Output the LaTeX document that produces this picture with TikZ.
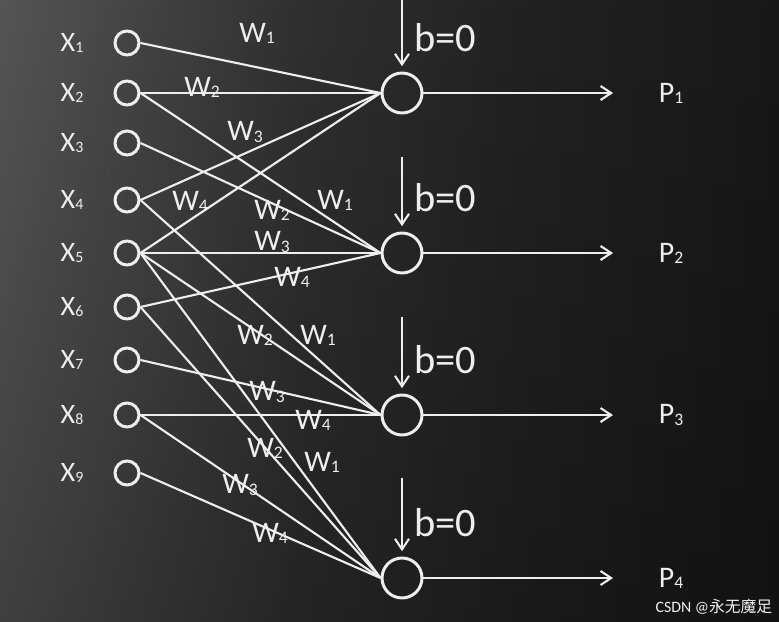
\documentclass[tikz,border=0pt]{standalone}
\usepackage{fontspec}
\setmainfont{Carlito}
\newfontfamily\cjkfont{Noto Sans CJK SC}
\usepackage{xcolor}
\usetikzlibrary{arrows.meta,fadings}
\definecolor{ink}{HTML}{EEEEEE}
\definecolor{bgA}{HTML}{555555}
\definecolor{bgB}{HTML}{303030}
\definecolor{bgC}{HTML}{222222}
\definecolor{bgD}{HTML}{181818}
\newcommand{\lowdigit}[2][8]{\raisebox{-0.6pt}{\fontsize{#1}{#1}\selectfont #2}}

\begin{document}
\begin{tikzpicture}[x=0.02cm,y=-0.02cm,
  inp/.style={circle,draw=ink,line width=1.7pt,minimum size=0.48cm,inner sep=0pt},
  neuron/.style={circle,draw=ink,line width=1.7pt,minimum size=0.8cm,inner sep=0pt},
  wire/.style={draw=ink,line width=1.2pt},
  xlab/.style={text=ink,inner sep=0pt,font=\fontsize{16}{16}\selectfont},
  wlab/.style={text=ink,inner sep=0pt,font=\fontsize{17}{17}\selectfont},
  blab/.style={text=ink,inner sep=0pt,anchor=west,font=\fontsize{23}{23}\selectfont},
  >={Straight Barb[length=6pt,width=8pt]}]
% background
\shade[left color=bgA,right color=bgB] (0,0) rectangle (300,622);
\shade[left color=bgB,right color=bgC] (300,0) rectangle (520,622);
\shade[left color=bgC,right color=bgD] (520,0) rectangle (779,622);
\fill[black,opacity=0.25,path fading=north] (0,0) rectangle (779,622);
\useasboundingbox (0,0) rectangle (779,622);

% inputs
\foreach \i/\y in {1/43,2/93,3/143,4/200,5/253,6/307,7/360,8/415,9/473} {
  \node[inp] (x\i) at (127,\y) {};
  \node[xlab] (xl\i) at (72,\y) {X\lowdigit[9]{\i}};
}
% neurons, bias and outputs
\foreach \n/\y/\t in {1/93/0,2/253/157,3/415/317,4/578/478} {
  \node[neuron] (n\n) at (402,\y) {};
  \coordinate (t\n) at (402,\t);
  \coordinate (e\n) at (613,\y);
  \node[blab] (b\n) at (414,\y-55) {b=0};
  \node[xlab,font=\fontsize{17}{17}\selectfont] (p\n) at (671,\y) {P\lowdigit[10]{\n}};
  \draw[wire,->,shorten >=3pt] (t\n) -- (n\n);
  \draw[wire,->] (n\n) -- (e\n);
}
% weights
\foreach \n/\list in {1/{1,2,4,5},2/{2,3,5,6},3/{4,5,7,8},4/{5,6,8,9}}
  \foreach \i in \list \draw[wire] (x\i.east) -- (n\n.west);
\foreach \n/\k/\px/\py in {1/1/257/33,1/2/202/87,1/3/245/132,1/4/190/201,
    2/1/335/200,2/2/272/210,2/3/272/242,2/4/292/277,
    3/1/318/335,3/2/255/335,3/3/267/392,3/4/313/420,
    4/1/322/462,4/2/265/448,4/3/240/485,4/4/270/533}
  \node[wlab] (w\n\k) at (\px,\py) {W\lowdigit[10]{\k}};

\node[text=ink!80,inner sep=0pt,font=\fontsize{9}{9}\selectfont] (wm) at (714,607) {CSDN @{\cjkfont 永无魔足}};
\end{tikzpicture}
\end{document}
